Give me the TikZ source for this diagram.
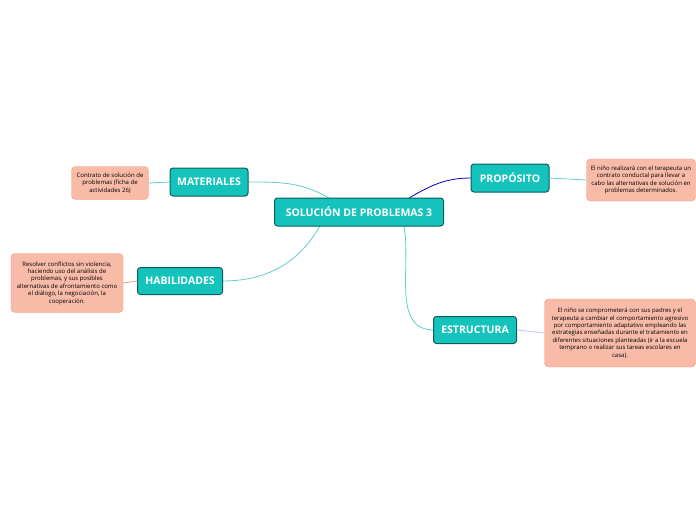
\documentclass[tikz,border=0pt]{standalone}
\usepackage{fontspec}
\setmainfont{Open Sans}
\definecolor{teal1}{HTML}{14C4BC}
\definecolor{tealdk}{HTML}{0E5C5C}
\definecolor{leaf}{HTML}{F8BBA8}
\definecolor{leafb}{HTML}{F09A80}
\definecolor{lnk}{HTML}{5FCFC8}
\begin{document}
\begin{tikzpicture}[x=1pt,y=-1pt,
 main/.style={draw=tealdk,line width=1pt,fill=teal1,rounded corners=3pt,text=white,font=\bfseries,inner sep=0pt},
 leafbox/.style={draw=leafb,fill=leaf,rounded corners=4pt,font=\fontsize{6}{7.4}\selectfont,align=center,inner sep=2pt},
 conn/.style={draw=lnk,line width=0.8pt}]
\useasboundingbox (0,0) rectangle (696,520);
\draw[conn] (329,198) to[out=150,in=0] (248,182);
\draw[conn] (320,226) to[out=240,in=0] (222,281);
\draw[draw=blue!70!black,line width=0.8pt] (409,198) to[out=30,in=180] (471,178);
\draw[conn] (404,226) to[out=280,in=180] (434,330);
\node[main,minimum width=169,minimum height=28,font=\bfseries\fontsize{10.5}{12}\selectfont] (c) at (359,212) {SOLUCIÓN DE PROBLEMAS 3};
\node[main,minimum width=78,minimum height=28,font=\bfseries\fontsize{10.5}{12}\selectfont] (m) at (209,182) {MATERIALES};
\node[main,minimum width=85,minimum height=27,font=\bfseries\fontsize{10.5}{12}\selectfont] (h) at (180,281) {HABILIDADES};
\node[main,minimum width=78,minimum height=28,font=\bfseries\fontsize{10.5}{12}\selectfont] (p) at (510,178) {PROPÓSITO};
\node[main,minimum width=83,minimum height=27,font=\bfseries\fontsize{10.5}{12}\selectfont] (e) at (475,330) {ESTRUCTURA};
\node[leafbox,minimum width=77,minimum height=33] (ml) at (110,183) {Contrato de solución de\\problemas (ficha de\\actividades 26)};
\node[leafbox,minimum width=112,minimum height=59] (hl) at (67,283) {Resolver conflictos sin violencia,\\haciendo uso del análisis de\\problemas, y sus posibles\\alternativas de afrontamiento como\\el diálogo, la negociación, la\\cooperación.};
\node[leafbox,minimum width=109,minimum height=42] (pl) at (641,180) {El niño realizará con el terapeuta un\\contrato conductal para llevar a\\cabo las alternativas de solución en\\problemas determinados.};
\node[leafbox,minimum width=151,minimum height=68] (el) at (620,333) {El niño se comprometerá con sus padres y el\\terapeuta a cambiar el comportamiento agresivo\\por comportamiento adaptativo empleando las\\estrategias enseñadas durante el tratamiento en\\diferentes situaciones planteadas (ir a la escuela\\temprano o realizar sus tareas escolares en\\casa).};
\draw[conn] (m.west) -- (ml.east);
\draw[draw=leafb,line width=0.8pt] (h.west) -- (hl.east);
\draw[conn] (p.east) -- (pl.west);
\draw[draw=blue!25,line width=0.8pt] (e.east) -- (el.west);
\end{tikzpicture}
\end{document}
